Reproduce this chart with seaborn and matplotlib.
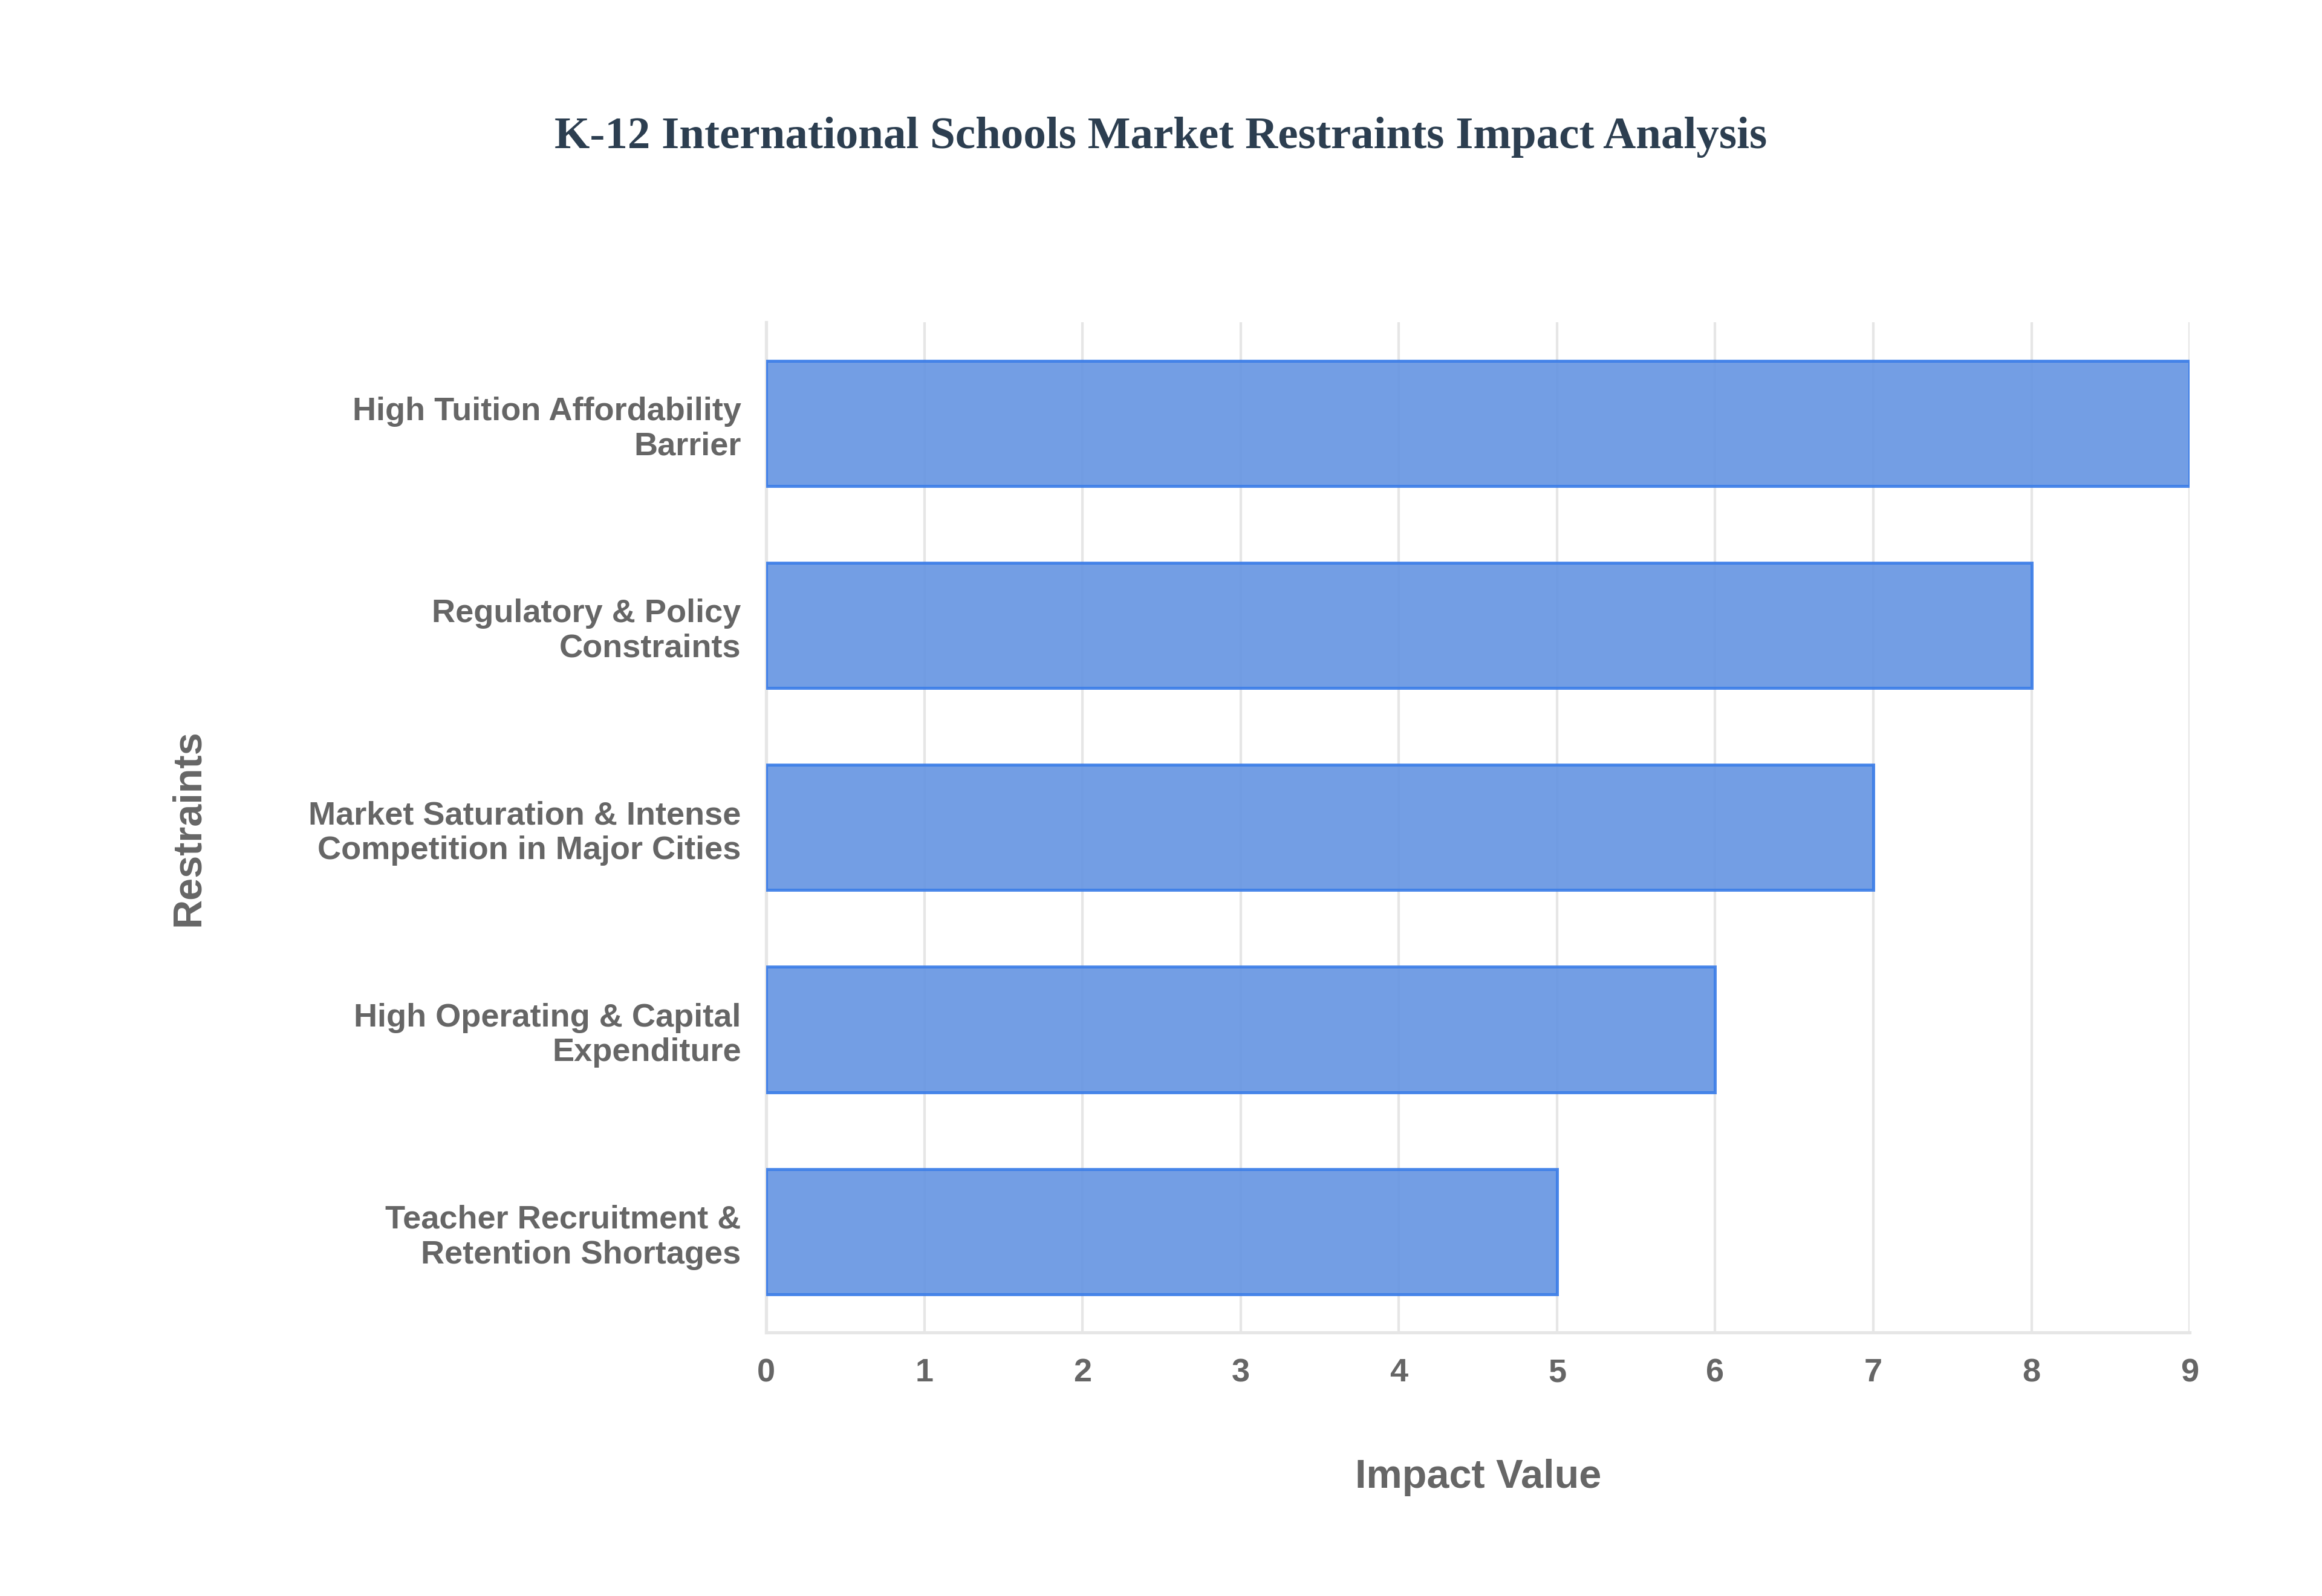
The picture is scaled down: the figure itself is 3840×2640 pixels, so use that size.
import matplotlib
matplotlib.use("Agg")
import matplotlib.pyplot as plt
import seaborn as sns
import pandas as pd

categories = ["High Tuition Affordability\nBarrier", "Regulatory & Policy\nConstraints",
              "Market Saturation & Intense\nCompetition in Major Cities",
              "High Operating & Capital\nExpenditure", "Teacher Recruitment &\nRetention Shortages"]
values = [9, 8, 7, 6, 5]
df = pd.DataFrame({"Restraint": categories, "Impact": values})

sns.set_theme(style="white")
plt.rcParams['font.family'] = ['Liberation Sans', 'DejaVu Sans']

fig = plt.figure(figsize=(12.8, 8.8), dpi=300)
ax = fig.add_axes([0.33, 0.165, 0.613, 0.633])
sns.barplot(data=df, y="Restraint", x="Impact", orient="h", color="#4f8ff7", alpha=0.9,
            edgecolor="#3b7de8", linewidth=1.2, width=0.62, ax=ax, zorder=3)
ax.set_xlim(0, 9)
ax.set_xticks(range(10))
ax.grid(axis="x", color="#e6e6e6", linewidth=1, zorder=0)
for s in ["top", "right"]:
    ax.spines[s].set_visible(False)
for s in ["left", "bottom"]:
    ax.spines[s].set_color("#e6e6e6")
ax.tick_params(length=0, pad=10)
for lab in ax.get_xticklabels() + ax.get_yticklabels():
    lab.set_fontweight("bold"); lab.set_color("#666666"); lab.set_fontsize(13)
ax.set_xlabel("Impact Value", fontsize=16, fontweight="bold", color="#666666", labelpad=28)
ax.set_ylabel("Restraints", fontsize=16, fontweight="bold", color="#666666", labelpad=40)
fig.text(0.5, 0.914, "K-12 International Schools Market Restraints Impact Analysis",
         ha="center", va="center", fontsize=18, fontweight="bold", color="#2c3e50",
         family=["Liberation Serif", "DejaVu Serif"])
fig.savefig("out.png", dpi=300, facecolor="white")
